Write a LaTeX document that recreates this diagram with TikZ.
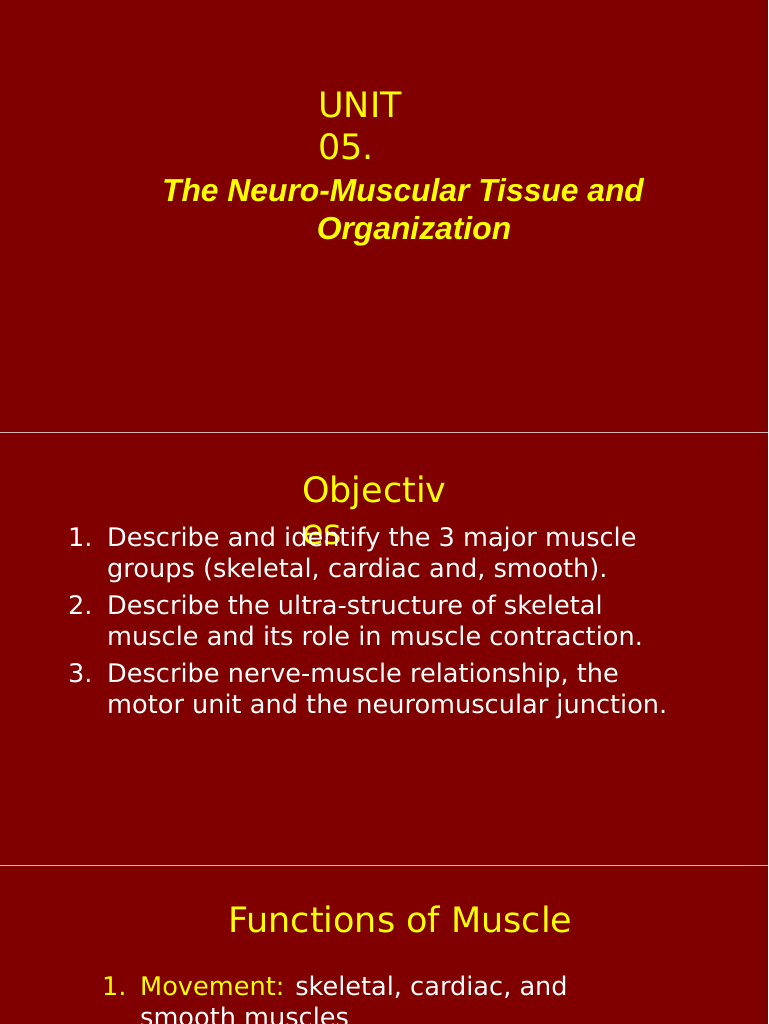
\documentclass[tikz,border=0pt]{standalone}
\usepackage{fontspec}
\setmainfont{DejaVu Sans}
\newfontfamily\titlefont{Liberation Sans}
\definecolor{bg}{RGB}{128,0,0}
\definecolor{ylw}{RGB}{255,255,0}
\tikzset{
 body/.style={anchor=base west,inner sep=0pt,text=white,font=\fontsize{25.6}{31}\selectfont},
 head/.style={anchor=base west,inner sep=0pt,text=ylw,font=\fontsize{35}{42}\selectfont},
 ttl/.style={anchor=base,inner sep=0pt,text=ylw,font=\titlefont\bfseries\itshape\fontsize{31.8}{38}\selectfont},
 sep/.style={draw=white!70!bg,line width=0.8pt}
}
\begin{document}
\begin{tikzpicture}[x=1pt,y=-1pt]
\useasboundingbox (0,0) rectangle (768,1024);
\clip (0,0) rectangle (768,1024);
\fill[bg] (0,0) rectangle (768,1024);
\coordinate (l1a) at (0,432); \coordinate (l1b) at (768,432);
\coordinate (l2a) at (0,865); \coordinate (l2b) at (768,865);
\draw[sep] (l1a) -- (l1b);
\draw[sep] (l2a) -- (l2b);
% slide 1
\node[head] (unit) at (318,118) {UNIT};
\node[head] (num) at (318,160) {05.};
\node[ttl] (t1) at (403,202) {The Neuro-Muscular Tissue and};
\node[ttl] (t2) at (414,240) {Organization};
% slide 2
\node[head] (obj1) at (302,502) {Objectiv};
\node[head] (obj2) at (302,544) {es};
\node[body] (n1) at (68,546) {1.};
\node[body] (a1) at (107,546) {Describe and identify the 3 major muscle};
\node[body] (a2) at (107,577) {groups (skeletal, cardiac and, smooth).};
\node[body] (n2) at (68,614) {2.};
\node[body] (b1) at (107,614) {Describe the ultra-structure of skeletal};
\node[body] (b2) at (107,645) {muscle and its role in muscle contraction.};
\node[body] (n3) at (68,682) {3.};
\node[body] (c1) at (107,682) {Describe nerve-muscle relationship, the};
\node[body] (c2) at (107,713) {motor unit and the neuromuscular junction.};
% slide 3
\node[head] (fn) at (228,932) {Functions of Muscle};
\node[body,text=ylw] (m0) at (102,995) {1.};
\node[body] (m1) at (140,995) {\textcolor{ylw}{Movement:} skeletal, cardiac, and};
\node[body] (m2) at (140,1026) {smooth muscles};
\end{tikzpicture}
\end{document}
